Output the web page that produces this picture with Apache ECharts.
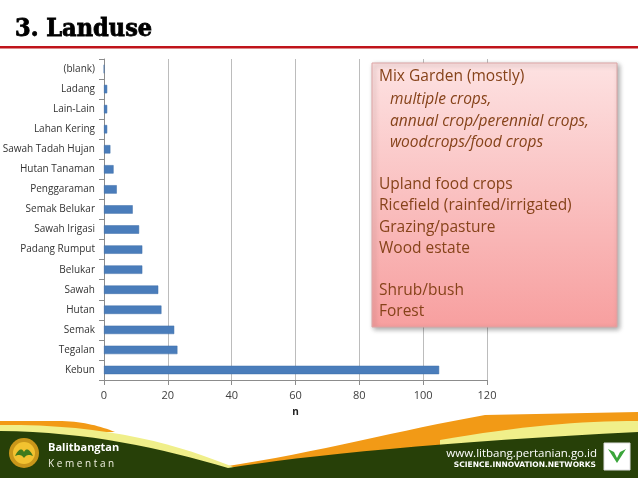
<!DOCTYPE html>
<html>
<head>
<meta charset="utf-8">
<script src="https://cdn.jsdelivr.net/npm/echarts@6/dist/echarts.min.js"></script>
<style>
  html, body { margin: 0; padding: 0; background: #fff; }
  #chart { width: 638px; height: 478px; }
</style>
</head>
<body>
<div id="chart"></div>
<script>
// land use categories, top to bottom as on the slide
const categories = [
  "(blank)", "Ladang", "Lain-Lain", "Lahan Kering", "Sawah Tadah Hujan",
  "Hutan Tanaman", "Penggaraman", "Semak Belukar", "Sawah Irigasi",
  "Padang Rumput", "Belukar", "Sawah", "Hutan", "Semak", "Tegalan", "Kebun"
];
const counts = [0, 1, 1, 1, 2, 3, 4, 9, 11, 12, 12, 17, 18, 22, 23, 105];
const xTicks = [0, 20, 40, 60, 80, 100, 120];

const noteLines = [
  { text: "Mix Garden (mostly)", italic: false },
  { text: "multiple crops,", italic: true },
  { text: "annual crop/perennial crops,", italic: true },
  { text: "woodcrops/food crops", italic: true },
  { text: "", italic: false },
  { text: "Upland food crops", italic: false },
  { text: "Ricefield (rainfed/irrigated)", italic: false },
  { text: "Grazing/pasture", italic: false },
  { text: "Wood estate", italic: false },
  { text: "", italic: false },
  { text: "Shrub/bush", italic: false },
  { text: "Forest", italic: false }
];

// sample a shape made of line / cubic segments into polygon points
function shapePoints(segs) {
  const pts = [];
  let cur = segs[0];
  pts.push(cur);
  for (let i = 1; i < segs.length; i++) {
    const s = segs[i];
    if (s.length === 2) { pts.push(s); cur = s; continue; }
    const [c1x, c1y, c2x, c2y, x, y] = s;
    for (let t = 1; t <= 16; t++) {
      const u = t / 16, v = 1 - u;
      pts.push([
        v * v * v * cur[0] + 3 * v * v * u * c1x + 3 * v * u * u * c2x + u * u * u * x,
        v * v * v * cur[1] + 3 * v * v * u * c1y + 3 * v * u * u * c2y + u * u * u * y
      ]);
    }
    cur = [x, y];
  }
  return pts;
}

const chart = echarts.init(document.getElementById("chart"));

const noteText = [];
noteLines.forEach((l, i) => {
  if (!l.text) return;
  noteText.push({
    type: "text",
    z: 20,
    x: l.italic ? 390 : 379,
    y: i === 0 ? 77 : 100 + (i - 1) * 21.2,
    style: {
      text: l.text,
      fill: "#86431a",
      verticalAlign: "middle",
      font: (l.italic ? "italic " : "") + "15.5px 'Open Sans', sans-serif"
    }
  });
});

chart.setOption({
  animation: false,
  textStyle: { fontFamily: "'Open Sans', sans-serif" },
  grid: { left: 104, right: 151, top: 59, bottom: 98, outerBoundsMode: "none" },
  xAxis: {
    type: "value",
    min: xTicks[0],
    max: xTicks[xTicks.length - 1],
    interval: 20,
    name: "n",
    nameLocation: "middle",
    nameGap: 27,
    nameTextStyle: { fontSize: 10, fontWeight: "bold", color: "#222" },
    axisLine: { show: true, lineStyle: { color: "#8c8c8c" } },
    axisTick: { show: true, length: 5, lineStyle: { color: "#8c8c8c" } },
    axisLabel: { fontSize: 11, color: "#404040", margin: 10 },
    splitLine: { lineStyle: { color: "#bcbcbc" } }
  },
  yAxis: {
    type: "category",
    data: categories,
    inverse: true,
    axisLine: { lineStyle: { color: "#8c8c8c" } },
    axisTick: { show: true, length: 5, lineStyle: { color: "#8c8c8c" } },
    axisLabel: { fontSize: 10, color: "#333", margin: 9 }
  },
  series: [{
    type: "bar",
    data: counts,
    barWidth: "42%",
    itemStyle: { color: "#4a7dbb", borderColor: "#3f6fa9", borderWidth: 0.5 }
  }],
  graphic: [
    // title + red rule
    { type: "text", x: 15, y: 29, style: { text: "3. Landuse", fill: "#000", stroke: "#000", lineWidth: 0.8,
      verticalAlign: "middle", font: "bold 25px 'DejaVu Serif Condensed', 'DejaVu Serif', serif" } },
    { type: "rect", shape: { x: 0, y: 46, width: 638, height: 2.5 }, style: { fill: "#c0141b" } },
    // note box
    { type: "rect", z: 10, shape: { x: 372, y: 63, width: 245, height: 264 },
      style: {
        fill: new echarts.graphic.LinearGradient(0, 0, 0, 1, [
          { offset: 0, color: "#fde2e2" }, { offset: 1, color: "#f79f9f" }
        ]),
        stroke: "#dda5a5", lineWidth: 1,
        shadowBlur: 5, shadowOffsetX: 2, shadowOffsetY: 2, shadowColor: "rgba(0,0,0,0.35)"
      } },
    ...noteText,
    // footer banner
    { type: "polygon", z: 5, shape: { points: shapePoints([[0, 421], [62, 421], [85, 422, 100, 426, 115, 432], [0, 432]]) }, style: { fill: "#f29a16" } },
    { type: "polygon", z: 6, shape: { points: shapePoints([[0, 425], [110, 424, 180, 445, 238, 469], [0, 478]]) }, style: { fill: "#f0ef8a" } },
    { type: "polygon", z: 5, shape: { points: shapePoints([[222, 467], [320, 452, 400, 430, 485, 415], [638, 412], [638, 478], [222, 478]]) }, style: { fill: "#f29a16" } },
    { type: "polygon", z: 6, shape: { points: shapePoints([[440, 440], [520, 426, 580, 421, 638, 421], [638, 478], [440, 478]]) }, style: { fill: "#f0ef8a" } },
    { type: "polygon", z: 7, shape: { points: shapePoints([[0, 431], [90, 432, 160, 448, 228, 468], [300, 456, 450, 441, 638, 432], [638, 478], [0, 478]]) }, style: { fill: "#274008" } },
    // left logo
    { type: "circle", z: 8, shape: { cx: 24, cy: 453, r: 15 }, style: { fill: "#c9961a" } },
    { type: "circle", z: 8, shape: { cx: 24, cy: 453, r: 11 }, style: { fill: "#f2c230" } },
    { type: "polygon", z: 9, shape: { points: shapePoints([[15, 456], [19, 448, 22, 448, 24, 452], [26, 448, 29, 448, 33, 456], [29, 454, 26, 455, 24, 458], [22, 455, 19, 454, 15, 456]]) }, style: { fill: "#3f7a1c" } },
    { type: "text", z: 9, x: 48, y: 448, style: { text: "Balitbangtan", fill: "#fff", verticalAlign: "middle", font: "bold 11px 'Open Sans', sans-serif" } },
    { type: "text", z: 9, x: 48, y: 464, style: { text: "K e m e n t a n", fill: "#f0f0e0", verticalAlign: "middle", font: "10px 'Open Sans', sans-serif" } },
    // right side
    { type: "text", z: 9, x: 597, y: 454, style: { text: "www.litbang.pertanian.go.id", fill: "#fff", verticalAlign: "middle", align: "right", font: "11.5px 'Open Sans', sans-serif" } },
    { type: "text", z: 9, x: 596, y: 465, style: { text: "SCIENCE.INNOVATION.NETWORKS", fill: "#fff", verticalAlign: "middle", align: "right", font: "bold 7.5px 'DejaVu Sans', sans-serif" } },
    { type: "rect", z: 8, shape: { x: 604, y: 443, width: 26, height: 27 }, style: { fill: "#fff", stroke: "#ddd" } },
    { type: "polygon", z: 9, shape: { points: [[608, 449], [617, 463], [626, 449], [620, 452], [617, 458], [614, 452]] }, style: { fill: "#3aa53a" } }
  ]
});
</script>
</body>
</html>
